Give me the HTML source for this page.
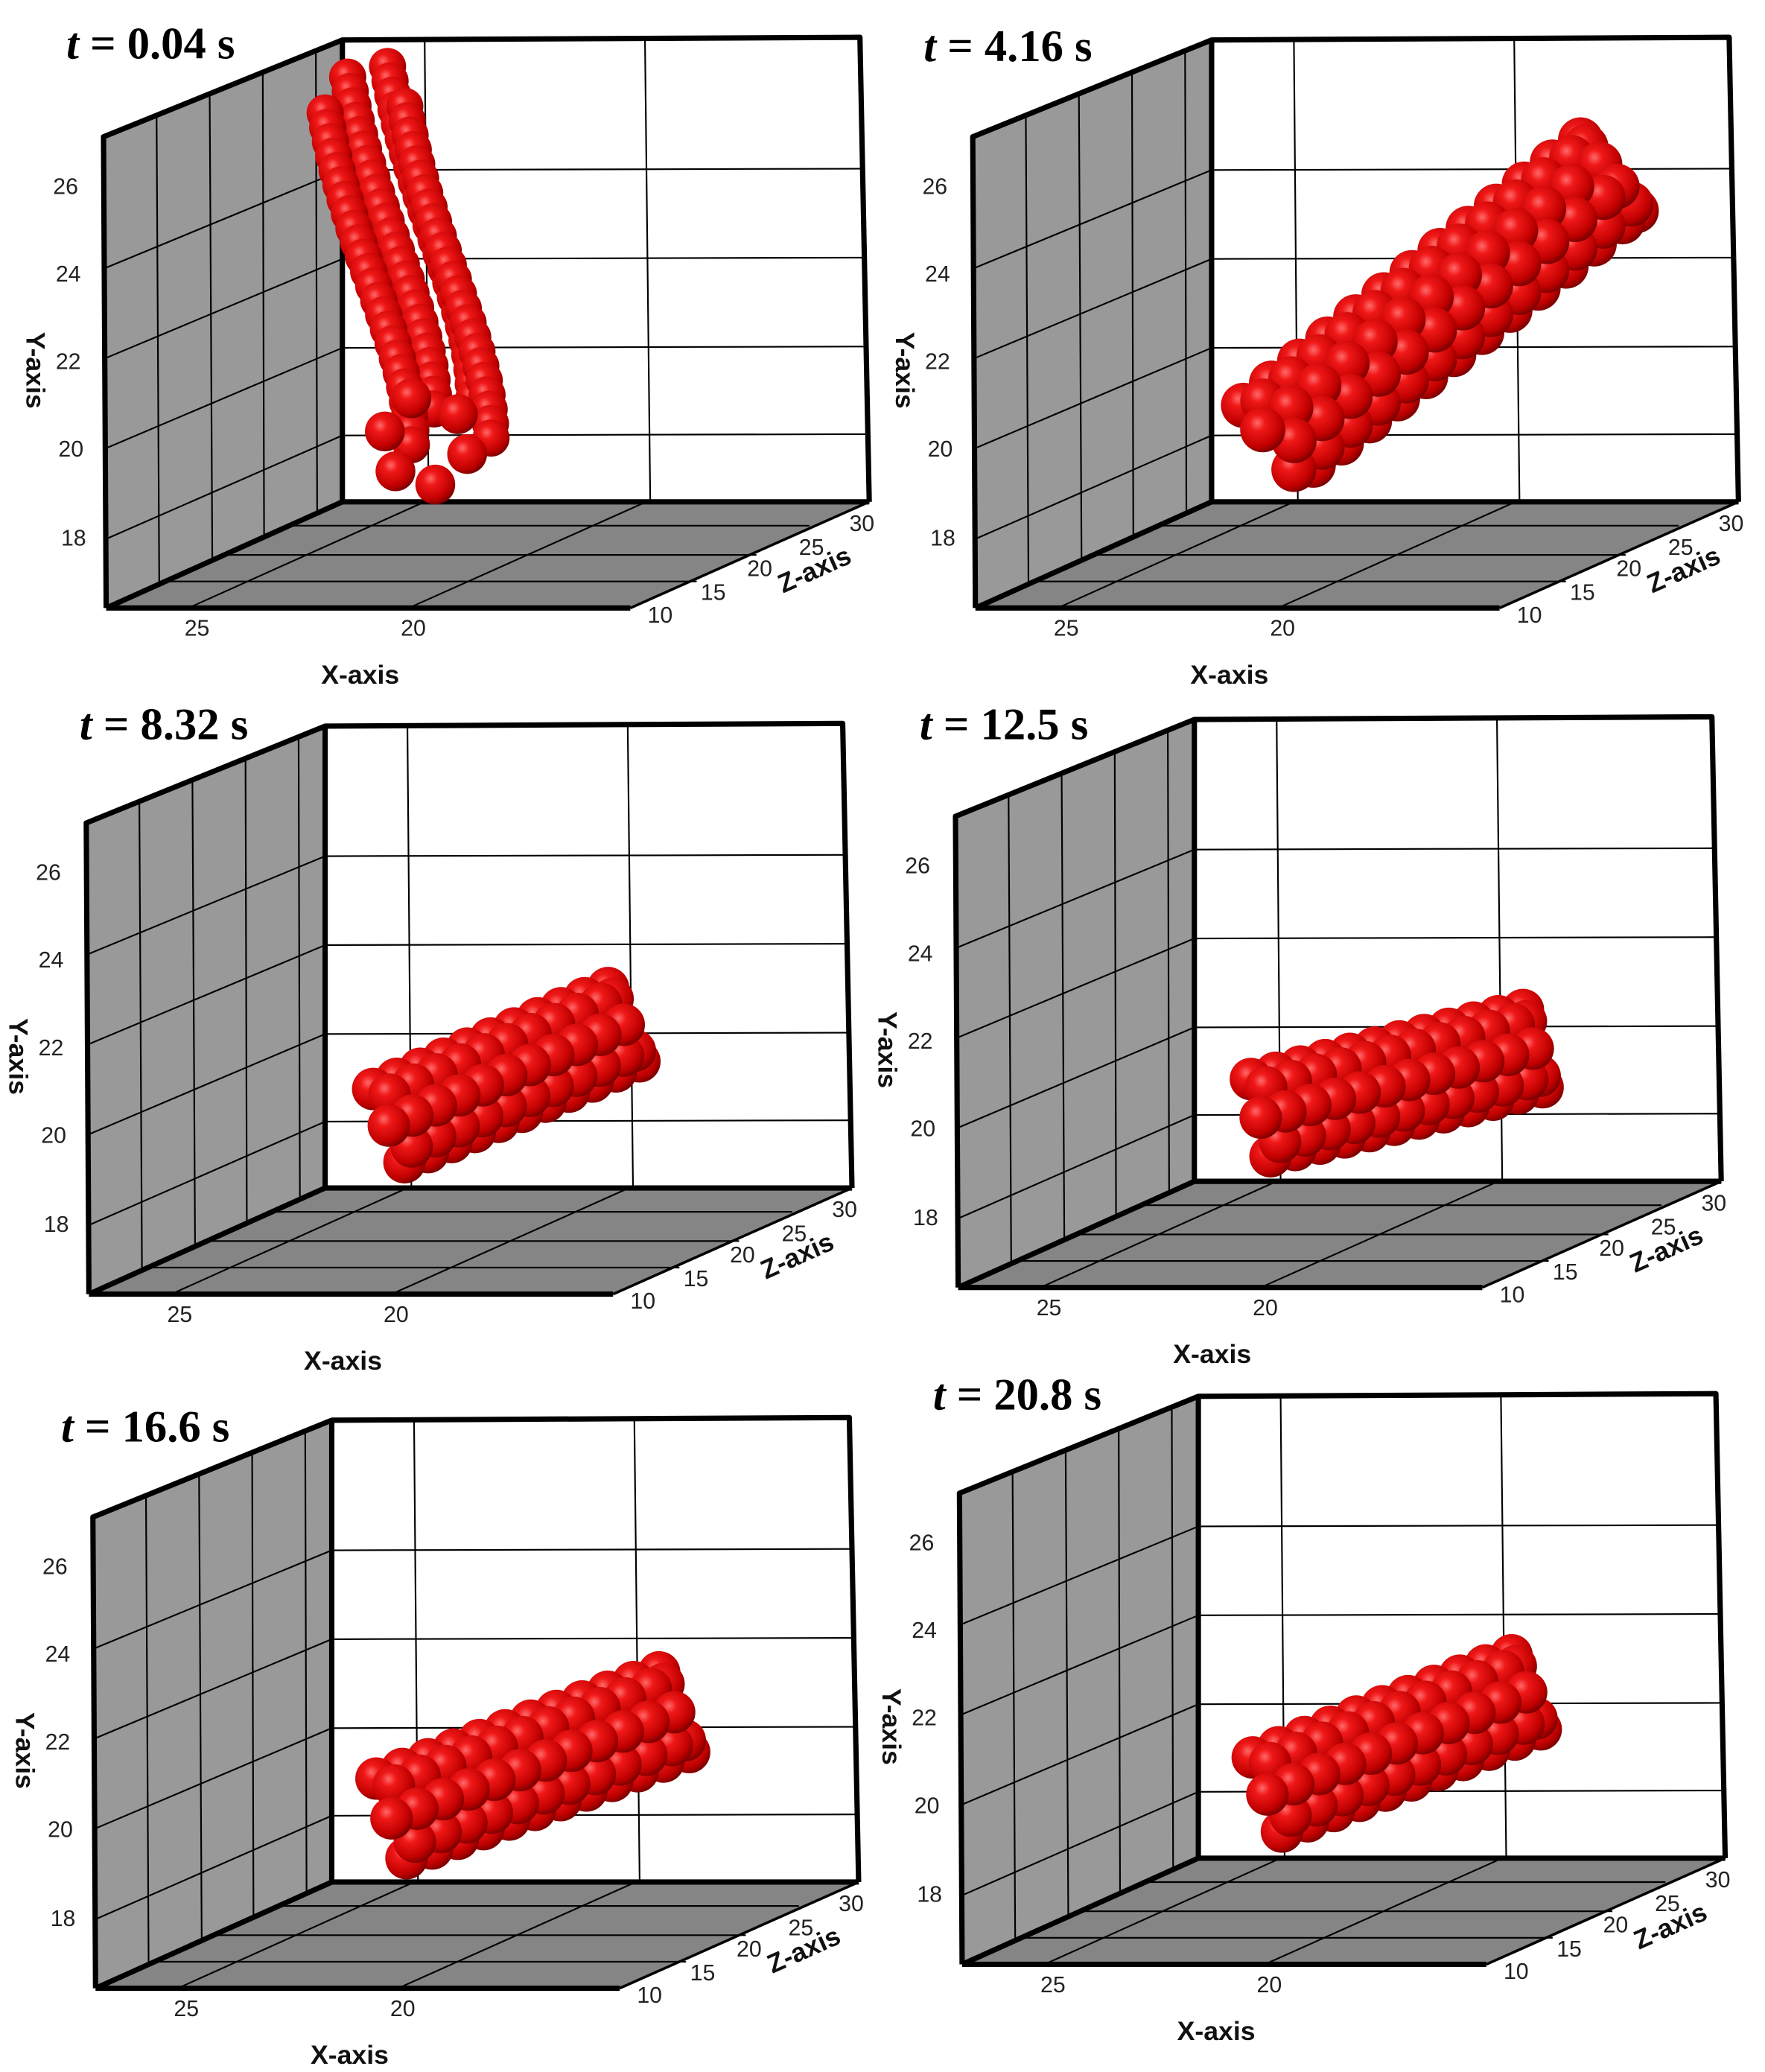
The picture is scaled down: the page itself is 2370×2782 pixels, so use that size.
<!DOCTYPE html>
<html><head><meta charset="utf-8"><style>
html,body{margin:0;padding:0;background:#fff}
svg{display:block}
.tk{font-family:"Liberation Sans",sans-serif;font-size:17px;fill:#222}
.ax{font-family:"Liberation Sans",sans-serif;font-size:20px;font-weight:bold;fill:#111}
.tt{font-family:"Liberation Serif",serif;font-size:34px;font-weight:bold;fill:#000}
</style></head><body>
<svg id="s" width="2370" height="2782" viewBox="0 0 1330 1561" xmlns="http://www.w3.org/2000/svg">
<defs>
<radialGradient id="g" cx="0.38" cy="0.35" r="0.7">
<stop offset="0" stop-color="#ff6a6a"/><stop offset="0.25" stop-color="#f01818"/><stop offset="0.75" stop-color="#c00000"/><stop offset="1" stop-color="#700000"/>
</radialGradient>
<g id="box">
<polygon points="78,103 258,30 258,378 80,458" fill="#999"/>
<polygon points="80,458 258,378 655,378 475,458" fill="#858585"/>
<polygon points="258,30 648,28 655,378 258,378" fill="#fff"/>
<g stroke="#000" stroke-width="1.2" fill="none">
<line x1="258" y1="128" x2="650" y2="127"/><line x1="258" y1="195" x2="651" y2="194"/>
<line x1="258" y1="262" x2="652" y2="261"/><line x1="258" y1="328" x2="653" y2="327"/>
<line x1="320" y1="30" x2="323" y2="378"/><line x1="486" y1="29" x2="490" y2="378"/>
<line x1="79" y1="202" x2="258" y2="128"/><line x1="79" y1="270" x2="258" y2="195"/>
<line x1="79" y1="338" x2="258" y2="262"/><line x1="80" y1="406" x2="258" y2="328"/>
<line x1="118" y1="87" x2="120" y2="441"/><line x1="158" y1="71" x2="160" y2="423"/>
<line x1="198" y1="55" x2="199" y2="405"/><line x1="238" y1="38" x2="239" y2="387"/>
<line x1="218" y1="396" x2="610" y2="396"/><line x1="170" y1="418" x2="570" y2="418"/>
<line x1="125" y1="438" x2="525" y2="438"/>
<line x1="320" y1="378" x2="142" y2="458"/><line x1="487" y1="378" x2="308" y2="458"/>
</g>
<g stroke="#000" stroke-width="4" fill="none" stroke-linejoin="round">
<polyline points="80,458 78,103 258,30 648,28 655,378"/>
<line x1="80" y1="458" x2="475" y2="458"/>
<line x1="258" y1="30" x2="258" y2="378"/><line x1="258" y1="378" x2="655" y2="378"/>
<line x1="80" y1="458" x2="258" y2="378"/>
</g>
<line x1="475" y1="458" x2="655" y2="378" stroke="#000" stroke-width="2"/>
<text class="tk" x="40" y="146">26</text><text class="tk" x="42" y="212">24</text>
<text class="tk" x="42" y="278">22</text><text class="tk" x="44" y="344">20</text>
<text class="tk" x="46" y="411">18</text>
<text class="tk" x="139" y="479">25</text><text class="tk" x="302" y="479">20</text>
<text class="tk" x="488" y="469">10</text><text class="tk" x="528" y="452">15</text>
<text class="tk" x="563" y="434">20</text><text class="tk" x="602" y="418">25</text>
<text class="tk" x="640" y="400">30</text>
<text class="ax" x="242" y="515">X-axis</text>
<text class="ax" transform="translate(20,250) rotate(90)">Y-axis</text>
<text class="ax" transform="translate(590,447) rotate(-24)">Z-axis</text>
</g>
</defs>
<use href="#box"/>
<use href="#box" transform="translate(655,0)"/>
<use href="#box" transform="translate(-13,517)"/>
<use href="#box" transform="translate(642,512)"/>
<use href="#box" transform="translate(-8,1040)"/>
<use href="#box" transform="translate(645,1022)"/>
<text class="tt" x="50" y="44"><tspan font-style="italic">t</tspan> = 0.04 s</text>
<text class="tt" x="696" y="46"><tspan font-style="italic">t</tspan> = 4.16 s</text>
<text class="tt" x="60" y="557"><tspan font-style="italic">t</tspan> = 8.32 s</text>
<text class="tt" x="693" y="557"><tspan font-style="italic">t</tspan> = 12.5 s</text>
<text class="tt" x="46" y="1086"><tspan font-style="italic">t</tspan> = 16.6 s</text>
<text class="tt" x="703" y="1062"><tspan font-style="italic">t</tspan> = 20.8 s</text>
<g id="sp"></g>
</svg>
<script>
var g=document.getElementById('sp'),h='';
function b(x,y,r){h+='<circle cx="'+x.toFixed(1)+'" cy="'+y.toFixed(1)+'" r="'+r+'" fill="url(#g)"/>';}
[[292,50],[262,58],[305,80],[245,85]].forEach(function(c){
 for(var i=0;i<24;i++){var s=i/23;b(c[0]+40*s+70*s*s-45*s*s*s*s,c[1]+250*s,14);}
});
[[310,300],[345,312],[290,325],[352,342],[298,355],[328,365]].forEach(function(p){b(p[0],p[1],15);});
function cyl(x0,y0,x1,y1,R,r,n,rows){
 var dx=x1-x0,dy=y1-y0,L=Math.hypot(dx,dy),nx=-dy/L,ny=dx/L;if(ny<0){nx=-nx;ny=-ny;}
 var pts=[];
 for(var k=0;k<rows;k++){var a=Math.PI*(k/(rows-1))-Math.PI/2;var off=R*Math.sin(a),dep=Math.cos(a);
  for(var i=0;i<n;i++){var s=i/(n-1);var sh=(k%2)*0.5/(n-1);s=Math.min(1,s+sh);
   pts.push([x0+dx*s+nx*off,y0+dy*s+ny*off,dep-s*0.5]);}}
 pts.sort(function(p,q){return p[2]-q[2]});
 pts.forEach(function(p){b(p[0],p[1],r);});
}
cyl(958,332,1212,132,34,17,13,6);
cyl(293,848,470,772,30,16,11,5);
cyl(950,842,1155,790,30,16,12,5);
cyl(295,1370,508,1290,32,16,12,5);
cyl(955,1352,1150,1275,30,16,11,5);
g.innerHTML=h;
</script>
</body></html>
